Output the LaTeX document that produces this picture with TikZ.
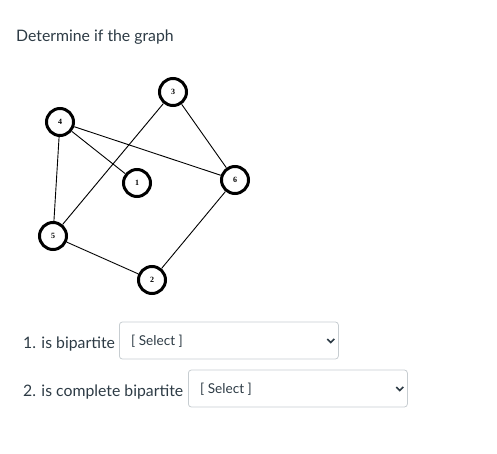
\documentclass[tikz,border=0pt]{standalone}
\usepackage{fontspec}
\setmainfont{Lato}
\newfontfamily\vtxfont{Liberation Serif}
\usetikzlibrary{calc, positioning}
\definecolor{inktext}{HTML}{2D3B45}
\definecolor{selborder}{HTML}{C7CDD1}

\begin{document}
\begin{tikzpicture}[
        x=1pt, y=-1pt,
        vtx/.style={circle, draw, line width=3pt, fill=white, minimum size=27pt, inner sep=0pt, font=\vtxfont\fontsize{8}{9}\selectfont\bfseries},
        edge/.style={line width=0.9pt},
        label/.style={anchor=west, inner sep=0pt, text=inktext, font=\fontsize{15.8}{18}\selectfont},
        selbox/.style={draw=selborder, rounded corners=3pt, line width=0.8pt, minimum width=219pt, minimum height=37pt, anchor=west, inner sep=0pt},
        seltext/.style={anchor=west, inner sep=0pt, text=inktext, font=\fontsize{13.6}{15}\selectfont}
    ]
        \useasboundingbox (0,0) rectangle (497,454);
        \node[label] (title) at (16,37) {Determine if the graph};

        % the graph
        \node[vtx] (n3) at (173,92) {3};
        \node[vtx] (n4) at (60,122) {4};
        \node[vtx] (n1) at (137,183) {1};
        \node[vtx] (n6) at (235,180) {6};
        \node[vtx] (n5) at (53,236) {5};
        \node[vtx] (n2) at (152,280) {2};

        \draw[edge] (n4) -- (n5);
        \draw[edge] (n4) -- (n1);
        \draw[edge] (n4) -- (n6);
        \draw[edge] (n3) -- (n5);
        \draw[edge] (n3) -- (n6);
        \draw[edge] (n5) -- (n2);
        \draw[edge] (n2) -- (n6);

        % questions
        \node[label] (q1) at (23,344) {1. is bipartite};
        \node[selbox] (sel1) at (119,340.5) {};
        \node[seltext] (s1) at (131,341) {[ Select ]};
        \draw[line width=1.6pt, inktext] ($(sel1.east)+(-11.5,-1.5)$) -- ++(3.5,3.5) -- ++(3.5,-3.5);

        \node[label] (q2) at (23,392) {2. is complete bipartite};
        \node[selbox] (sel2) at (188,388.5) {};
        \node[seltext] (s2) at (200,389) {[ Select ]};
        \draw[line width=1.6pt, inktext] ($(sel2.east)+(-11.5,-1.5)$) -- ++(3.5,3.5) -- ++(3.5,-3.5);
    \end{tikzpicture}
\end{document}
